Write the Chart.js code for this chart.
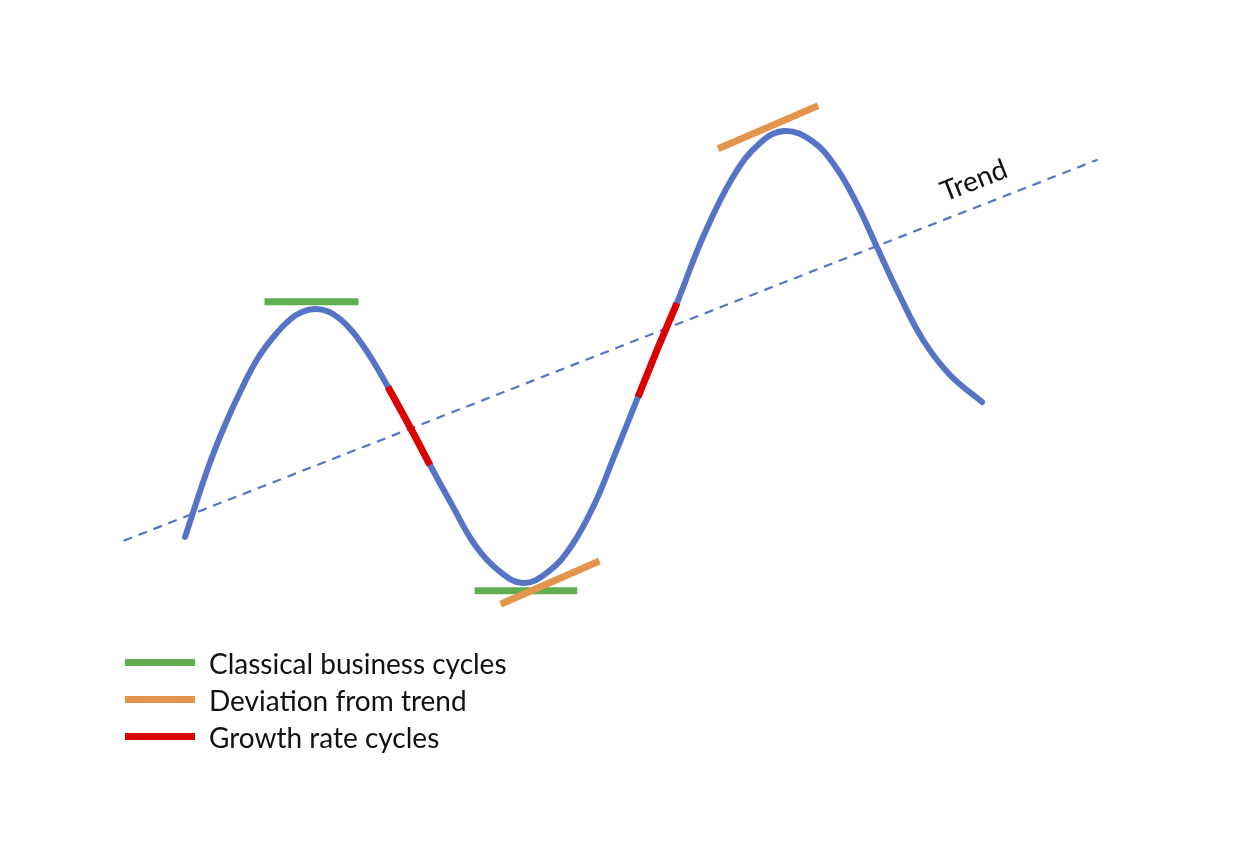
<!DOCTYPE html>
<html>
<head>
<meta charset="utf-8">
<script src="https://cdn.jsdelivr.net/npm/chart.js@4"></script>
<style>
  html,body{margin:0;padding:0;background:#fff;}
  #wrap{position:relative;width:1236px;height:845px;}
  #legend{position:absolute;left:125px;top:644px;font-family:Lato,"Open Sans",sans-serif;font-size:28px;color:#111;}
  .row{display:flex;align-items:center;height:37px;}
  .sw{width:70px;height:7px;margin-right:14px;}
</style>
</head>
<body>
<div id="wrap">
  <canvas id="c"></canvas>
  <div id="legend"></div>
</div>
<script>
// Cycle curve (time, level)
const cycleX = [14.97,16.83,18.20,19.58,20.87,22.25,23.46,24.43,25.49,26.54,27.51,28.48,29.45,30.42,31.39,33.17,34.79,36.57,38.43,40.29,42.31,44.34,46.28,48.14,49.76,51.62,53.16,54.77,56.88,59.30,61.49,63.51,65.70,67.56,69.26,70.95,72.65,74.68,76.86,79.45];
const cycleY = [36.45,44.62,49.70,54.08,57.63,60.36,62.19,63.08,63.43,63.14,62.25,60.83,58.93,56.69,54.20,49.47,44.97,40.24,35.50,32.54,31.01,32.31,35.50,40.47,46.27,53.02,58.58,64.14,71.95,79.05,83.08,84.50,83.31,80.36,76.09,70.77,65.44,59.76,55.62,52.43];
// Trend line
const trendX = [10.0, 88.8];
const trendY = [36.0, 81.1];
// Classical business cycles (turning points)
const classicalX = [[21.4,29.0],[38.4,46.7]];
const classicalY = [[64.3,64.3],[30.1,30.1]];
// Deviation from trend
const deviationX = [[40.5,48.5],[58.1,66.2]];
const deviationY = [[28.5,33.6],[82.4,87.5]];
// Growth rate cycles
const growthX = [[31.39,33.17,34.79],[51.62,53.16,54.77]];
const growthY = [[54.20,49.47,44.97],[53.02,58.58,64.14]];

const legendLabels = ["Classical business cycles","Deviation from trend","Growth rate cycles"];
const trendLabel = "Trend";

const BLUE = "#5574c6", GREEN = "#5fae50", ORANGE = "#e3954b", RED = "#dd0000";

const pts = (xs, ys) => xs.map((x,i)=>({x, y: ys[i]}));
const datasets = [];
datasets.push({label:"Trend", data: pts(trendX,trendY), borderColor: BLUE, borderWidth:2.2, borderDash:[9,7], pointRadius:0, tension:0, order:5});
datasets.push({label:"Cycle", data: pts(cycleX,cycleY), borderColor: BLUE, borderWidth:6, pointRadius:0, tension:0.4, borderCapStyle:'round', order:4});
growthX.forEach((xs,i)=>datasets.push({label:legendLabels[2], data: pts(xs,growthY[i]), borderColor: RED, borderWidth:7, pointRadius:0, tension:0.3, borderCapStyle:'butt', order:3}));
classicalX.forEach((xs,i)=>datasets.push({label:legendLabels[0], data: pts(xs,classicalY[i]), borderColor: GREEN, borderWidth:7, pointRadius:0, borderCapStyle:'butt', order:2}));
deviationX.forEach((xs,i)=>datasets.push({label:legendLabels[1], data: pts(xs,deviationY[i]), borderColor: ORANGE, borderWidth:7, pointRadius:0, borderCapStyle:'butt', order:1}));

const trendLabelPlugin = {
  id:'trendLabel',
  afterDatasetsDraw(chart){
    const {ctx, scales:{x,y}} = chart;
    const x0 = x.getPixelForValue(trendX[0]), y0 = y.getPixelForValue(trendY[0]);
    const x1 = x.getPixelForValue(trendX[1]), y1 = y.getPixelForValue(trendY[1]);
    const ang = Math.atan2(y1-y0, x1-x0);
    const px = x.getPixelForValue(78.8), py = y.getPixelForValue(78.6);
    ctx.save();
    ctx.translate(px, py);
    ctx.rotate(ang);
    ctx.font = '28px Lato, "Open Sans", sans-serif';
    ctx.fillStyle = '#111';
    ctx.textAlign = 'center';
    ctx.textBaseline = 'middle';
    ctx.fillText(trendLabel, 0, 0);
    ctx.restore();
  }
};

new Chart(document.getElementById('c'), {
  type:'line',
  data:{datasets},
  options:{
    responsive:true,
    maintainAspectRatio:false,
    animation:false,
    layout:{padding:0},
    plugins:{legend:{display:false}, tooltip:{enabled:false}},
    scales:{
      x:{type:'linear', min:0, max:100, display:false},
      y:{type:'linear', min:0, max:100, display:false}
    }
  },
  plugins:[trendLabelPlugin]
});

const colors = [GREEN, ORANGE, RED];
const lg = document.getElementById('legend');
legendLabels.forEach((t,i)=>{
  const r = document.createElement('div'); r.className='row';
  const s = document.createElement('div'); s.className='sw'; s.style.background = colors[i];
  const sp = document.createElement('span'); sp.textContent = t;
  r.appendChild(s); r.appendChild(sp); lg.appendChild(r);
});
</script>
</body>
</html>
